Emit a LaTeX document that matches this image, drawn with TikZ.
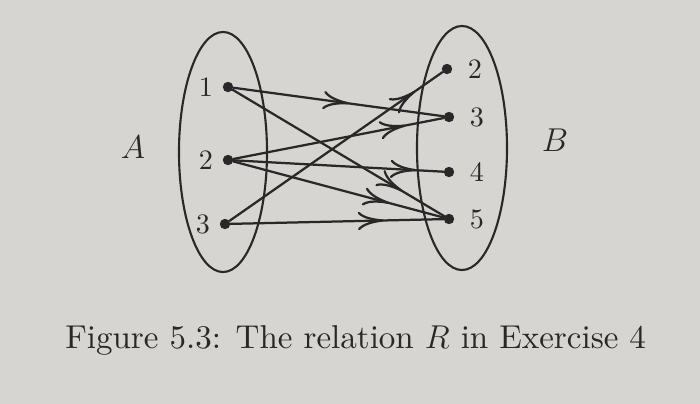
\documentclass[tikz,border=0pt]{standalone}
\usepackage{fix-cm}
\usepackage{fontspec}
\setmainfont{lmroman10-regular}[Extension = .otf, ItalicFont = lmroman10-italic]
\usepackage{tikz}
\usetikzlibrary{arrows.meta,positioning}
\usetikzlibrary{shapes.geometric,decorations.markings}
\definecolor{ink}{RGB}{40,40,40}
\definecolor{paperlight}{RGB}{236,235,232}
\definecolor{paperdark}{RGB}{214,213,209}
\tikzset{
    every node/.style={text=ink},
    elem/.style={circle,fill=ink,inner sep=0pt,minimum size=2.6mm},
    elem label/.style={inner sep=0pt,font=\fontsize{20}{24}\selectfont},
    set/.style={ellipse,draw=ink,line width=1.5pt,inner sep=0pt},
    big text/.style={font=\fontsize{23.5}{28}\selectfont},
    rel/.style={draw=ink,line width=1.6pt,postaction={decorate},
        decoration={markings,
            mark=at position #1 with {\arrow{To[length=6.5mm,width=4.6mm]}}}}
}

\begin{document}
\begin{tikzpicture}[
            x = 0.025cm, % one unit per pixel
            y = -0.025cm,
            color = ink,
            line cap = round
        ]

        % paper
        \useasboundingbox (0,0) rectangle (700,403);
        \shade[left color = paperdark, middle color = paperlight,
            right color = paperdark] (0,0) rectangle (700,403);

        % the two sets
        \node[set, minimum width = 2.2cm, minimum height = 6cm] (setA) at (223,152) {};
        \node[set, minimum width = 2.25cm, minimum height = 6.1cm] (setB) at (462,148) {};
        \node[big text] (A) at (133,147) {$A$};
        \node[big text] (B) at (555,140) {$B$};

        % elements of A
        \node[elem] (a1) at (228,87) {};
        \node[elem] (a2) at (228,160) {};
        \node[elem] (a3) at (225,224) {};
        \node[elem label, left = 2.3mm of a1] (la1) {1};
        \node[elem label, left = 2.3mm of a2] (la2) {2};
        \node[elem label, left = 2.3mm of a3] (la3) {3};

        % elements of B
        \node[elem] (b2) at (447,69) {};
        \node[elem] (b3) at (449,117) {};
        \node[elem] (b4) at (449,172) {};
        \node[elem] (b5) at (449,219) {};
        \node[elem label, right = 3.8mm of b2] (lb2) {2};
        \node[elem label, right = 3.8mm of b3] (lb3) {3};
        \node[elem label, right = 3.8mm of b4] (lb4) {4};
        \node[elem label, right = 3.8mm of b5] (lb5) {5};

        % the relation
        \path (a1) edge[rel = 0.55] (b3);
        \path (a1) edge[rel = 0.80] (b5);
        \path (a2) edge[rel = 0.82] (b3);
        \path (a2) edge[rel = 0.87] (b4);
        \path (a2) edge[rel = 0.74] (b5);
        \path (a3) edge[rel = 0.87] (b2);
        \path (a3) edge[rel = 0.72] (b5);

        \node[big text, anchor = base west, inner sep = 0pt] (caption) at (65,348)
            {Figure 5.3: The relation $R$ in Exercise 4};

\end{tikzpicture}
\end{document}
